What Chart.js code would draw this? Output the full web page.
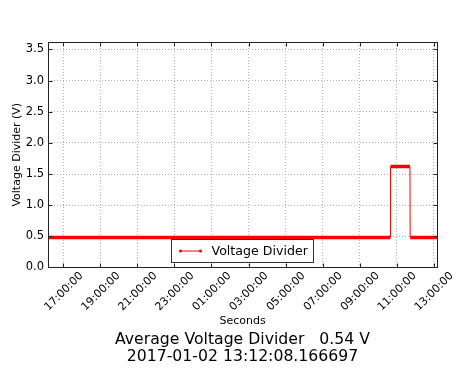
<!DOCTYPE html>
<html>
<head>
<meta charset="utf-8">
<script src="https://cdn.jsdelivr.net/npm/chart.js@4.4.0/dist/chart.umd.min.js"></script>
<style>
  html, body { margin: 0; padding: 0; background: #fff; }
  #chart { display: block; }
</style>
</head>
<body>
<canvas id="chart" width="474" height="376"></canvas>
<script>
"use strict";

// hours counted from midnight of day 1 (24 = 00:00 next day)
const sampleHours = [16.17, 34.66, 34.67, 35.72, 35.73, 37.18];
const voltages = [0.48, 0.48, 1.62, 1.62, 0.48, 0.48];

const tickHours = [17, 19, 21, 23, 25, 27, 29, 31, 33, 35, 37];
const tickLabels = ['17:00:00', '19:00:00', '21:00:00', '23:00:00', '01:00:00',
    '03:00:00', '05:00:00', '07:00:00', '09:00:00', '11:00:00', '13:00:00'];
const yTicks = [0, 0.5, 1.0, 1.5, 2.0, 2.5, 3.0, 3.5];

const seriesName = 'Voltage Divider';
const titleLines = ['Average Voltage Divider   0.54 V', '2017-01-02 13:12:08.166697'];

const FONT = 'DejaVu Sans';

// box around the plot with inward ticks, like matplotlib classic style
const framePlugin = {
    id: 'frame',
    afterDraw(chart) {
        const a = chart.chartArea;
        const c = chart.ctx;
        const L = Math.round(a.left) + 0.5, R = Math.round(a.right) + 0.5;
        const T = Math.round(a.top) + 0.5, B = Math.round(a.bottom) + 0.5;
        c.save();
        c.strokeStyle = '#222';
        c.lineWidth = 1;
        c.strokeRect(L, T, R - L, B - T);
        c.beginPath();
        chart.scales.x.ticks.forEach(t => {
            const px = Math.round(chart.scales.x.getPixelForValue(t.value)) + 0.5;
            c.moveTo(px, B); c.lineTo(px, B - 4);
            c.moveTo(px, T); c.lineTo(px, T + 4);
        });
        chart.scales.y.ticks.forEach(t => {
            const py = Math.round(chart.scales.y.getPixelForValue(t.value)) + 0.5;
            c.moveTo(L, py); c.lineTo(L + 4, py);
            c.moveTo(R, py); c.lineTo(R - 4, py);
        });
        c.stroke();
        c.restore();
    }
};

// legend box sitting inside the plot, bottom centre
const legendPlugin = {
    id: 'innerLegend',
    afterDraw(chart) {
        const a = chart.chartArea;
        const c = chart.ctx;
        const w = 142, h = 23;
        const x = Math.round((a.left + a.right) / 2 - w / 2 - 1) + 0.5;
        const y = Math.round(a.bottom - 5 - h) + 0.5;
        c.save();
        c.fillStyle = '#fff';
        c.fillRect(x, y, w, h);
        c.strokeStyle = '#333';
        c.lineWidth = 1;
        c.strokeRect(x, y, w, h);
        const ly = y + h / 2;
        c.strokeStyle = 'red';
        c.beginPath();
        c.moveTo(x + 9, ly);
        c.lineTo(x + 29, ly);
        c.stroke();
        c.fillStyle = 'red';
        [x + 9, x + 29].forEach(px => {
            c.beginPath();
            c.arc(px, ly, 1.6, 0, Math.PI * 2);
            c.fill();
        });
        c.fillStyle = '#000';
        c.font = '12.6px "' + FONT + '"';
        c.textBaseline = 'middle';
        c.fillText(seriesName, x + 40, ly + 1);
        c.restore();
    }
};

new Chart(document.getElementById('chart'), {
    type: 'line',
    data: {
        datasets: [{
            label: seriesName,
            data: sampleHours.map((h, i) => ({ x: h, y: voltages[i] })),
            borderColor: 'red',
            backgroundColor: 'red',
            borderWidth: 1,
            pointRadius: 0,
            fill: false,
            tension: 0,
            segment: {
                borderWidth: ctx => ctx.p0.parsed.y === ctx.p1.parsed.y ? 3.5 : 1
            }
        }]
    },
    options: {
        responsive: false,
        animation: false,
        layout: { padding: { left: 11, right: 0, top: 42, bottom: 10 } },
        plugins: {
            legend: { display: false },
            tooltip: { enabled: false },
            title: {
                display: true,
                position: 'bottom',
                text: titleLines,
                color: '#000',
                font: { family: FONT, size: 15.7, weight: 'normal', lineHeight: 1.1 },
                padding: { top: 2, bottom: 0 }
            }
        },
        scales: {
            x: {
                type: 'linear',
                min: 16.17,
                max: 37.18,
                afterBuildTicks: scale => {
                    scale.ticks = tickHours.map(v => ({ value: v }));
                },
                afterFit: scale => { scale.height = 62; },
                ticks: {
                    color: '#000',
                    font: { family: FONT, size: 11 },
                    minRotation: 45,
                    maxRotation: 45,
                    padding: 2,
                    labelOffset: 18,
                    callback: (value, index) => tickLabels[index]
                },
                grid: {
                    color: '#b0b0b0',
                    drawTicks: false
                },
                border: { display: false, dash: [1, 2] },
                title: {
                    display: true,
                    text: 'Seconds',
                    color: '#000',
                    font: { family: FONT, size: 11 },
                    padding: { top: 0, bottom: 2 }
                }
            },
            y: {
                min: 0,
                max: 3.62,
                afterBuildTicks: scale => {
                    scale.ticks = yTicks.map(v => ({ value: v }));
                },
                afterFit: scale => { scale.width = 37; },
                ticks: {
                    color: '#000',
                    font: { family: FONT, size: 11.5 },
                    padding: 4,
                    callback: value => value.toFixed(1)
                },
                grid: {
                    color: '#b0b0b0',
                    drawTicks: false
                },
                border: { display: false, dash: [1, 2] },
                title: {
                    display: true,
                    text: 'Voltage Divider (V)',
                    color: '#000',
                    font: { family: FONT, size: 11 },
                    padding: { top: 0, bottom: 0 }
                }
            },
            // empty right-hand axis: keeps the right margin without shifting the title
            right: {
                position: 'right',
                min: 0,
                max: 3.62,
                afterFit: scale => { scale.width = 37; },
                ticks: { display: false },
                grid: { display: false, drawTicks: false },
                border: { display: false }
            }
        }
    },
    plugins: [framePlugin, legendPlugin]
});
</script>
</body>
</html>
